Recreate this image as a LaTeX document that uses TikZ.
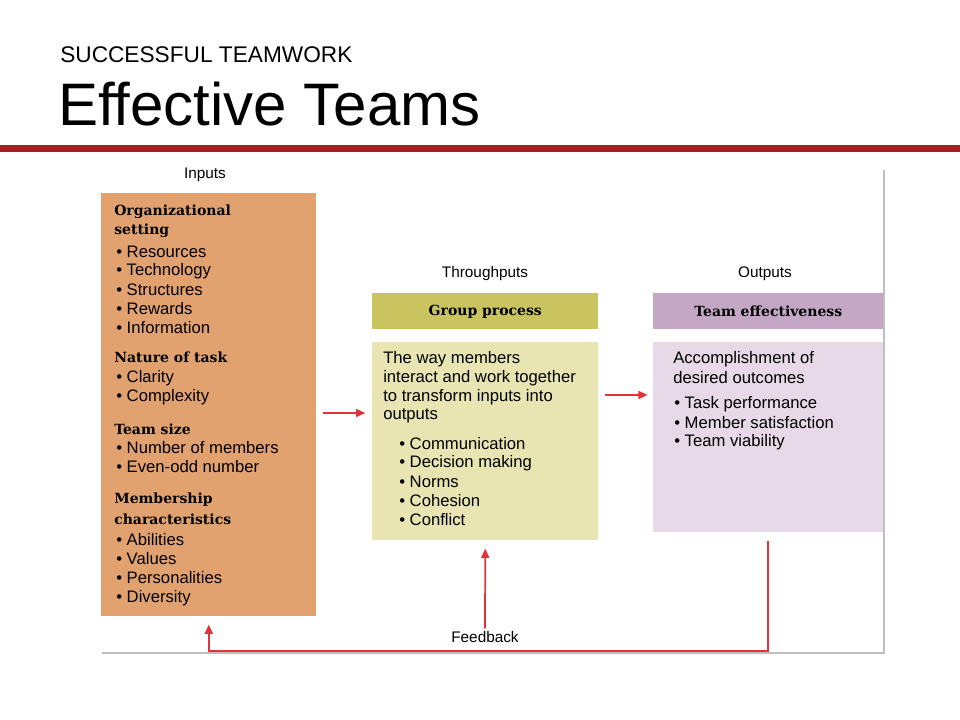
\documentclass[tikz,border=0pt]{standalone}
\usepackage{fontspec}
\setmainfont{Liberation Sans}
\newfontfamily\headfont{DejaVu Serif}
\usetikzlibrary{arrows.meta}
\definecolor{barred}{HTML}{A31F24}
\definecolor{arrred}{HTML}{E0343A}
\definecolor{inorange}{HTML}{E2A26F}
\definecolor{grphead}{HTML}{C9C45F}
\definecolor{grpbody}{HTML}{E8E5B3}
\definecolor{outhead}{HTML}{C4A7C5}
\definecolor{outbody}{HTML}{E7D9E7}
\tikzset{
  box/.style={anchor=north west, inner sep=0pt},
  head/.style={font=\headfont\bfseries\fontsize{10.5}{12}\selectfont},
  item/.style={anchor=west, inner sep=0pt, font=\fontsize{12.5}{14}\selectfont},
  lab/.style={inner sep=0pt, font=\fontsize{11.5}{13}\selectfont},
  flow/.style={arrred, line width=1.3pt, -{Triangle[length=7pt,width=6pt]}}
}
\begin{document}
\begin{tikzpicture}[x=0.75pt,y=-0.75pt]
\useasboundingbox (0,0) rectangle (960,720);
% title
\node[anchor=west, inner sep=0pt, font=\fontsize{17}{20}\selectfont] (sub) at (60,55) {SUCCESSFUL TEAMWORK};
\node[anchor=base west, inner sep=0pt, font=\fontsize{45}{50}\selectfont] (title) at (58,126) {Effective Teams};
\fill[barred] (0,145) rectangle (960,152);

% panel shadow
\draw[black!25, line width=2pt] (884,170) -- (884,653) -- (102,653);

% boxes
\node[box, fill=inorange, minimum width=161.25pt, minimum height=317.25pt] (inbox) at (101,193) {};
\node[box, fill=grphead, minimum width=169.5pt, minimum height=27pt] (ghead) at (372,293) {};
\node[box, fill=grpbody, minimum width=169.5pt, minimum height=148.5pt] (gbody) at (372,342) {};
\node[box, fill=outhead, minimum width=172.5pt, minimum height=27pt] (ohead) at (653,293) {};
\node[box, fill=outbody, minimum width=172.5pt, minimum height=142.5pt] (obody) at (653,342) {};
\node[head, inner sep=0pt] (gtxt) at (ghead.center) {Group process};
\node[head, inner sep=0pt] (otxt) at (ohead.center) {Team effectiveness};

% labels
\node[lab] (inlab) at (205,175) {Inputs};
\node[lab] (thlab) at (485,274) {Throughputs};
\node[lab] (oulab) at (765,274) {Outputs};
\node[lab] (fbtxt) at (485,637) {Feedback};

% inputs
\foreach \t/\y [count=\i] in {Organizational/212, setting/231, Nature of task/357,
    Team size/429, Membership/500, characteristics/519}
  \node[item, head] (ih\i) at (114,\y) {\t};
\foreach \t/\y [count=\i] in {Resources/252, Technology/271, Structures/290, Rewards/309,
    Information/328, Clarity/378, Complexity/397, Number of members/448,
    Even-odd number/467, Abilities/540, Values/559, Personalities/578, Diversity/598}
  \node[item] (ii\i) at (116,\y) {\textbullet\ \t};

% throughputs
\foreach \t/\y [count=\i] in {The way members/359, interact and work together/378,
    to transform inputs into/397, outputs/416}
  \node[item] (gt\i) at (383,\y) {\t};
\foreach \t/\y [count=\i] in {Communication/444, Decision making/463, Norms/482,
    Cohesion/501, Conflict/520}
  \node[item] (gi\i) at (399,\y) {\textbullet\ \t};

% outputs
\foreach \t/\y [count=\i] in {Accomplishment of/359, desired outcomes/378}
  \node[item] (ot\i) at (673,\y) {\t};
\foreach \t/\y [count=\i] in {Task performance/404, Member satisfaction/423, Team viability/442}
  \node[item] (oi\i) at (674,\y) {\textbullet\ \t};

% connectors
\coordinate (a1) at (0,413);
\coordinate (a2) at (0,395);
\coordinate (fb) at (0,651);
\draw[flow, shorten <=5pt, shorten >=5pt] (inbox.east |- a1) -- (gbody.west |- a1);
\draw[flow, shorten <=5pt, shorten >=4pt] (gbody.east |- a2) -- (obody.west |- a2);
\draw[flow, shorten <=2pt, shorten >=6pt] (fbtxt.north) -- (gbody.south);
\draw[flow, shorten <=6pt, shorten >=6pt] (obody.south) -- (obody.south |- fb) -| (inbox.south);
\end{tikzpicture}
\end{document}
